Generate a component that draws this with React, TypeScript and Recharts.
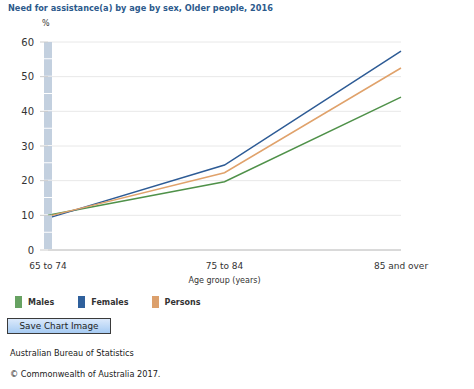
import React from "react";
import { CartesianGrid, Line, LineChart, XAxis, YAxis } from "recharts";

const categories = ["65 to 74", "75 to 84", "85 and over"];
const males = [10.0, 19.7, 44.1];
const females = [9.2, 24.5, 57.4];
const persons = [9.7, 22.3, 52.5];
const yTicks = [0, 10, 20, 30, 40, 50, 60];

const series = [
  { key: "males", name: "Males", color: "#4f9149", legend: "#67a262", gap: 24 },
  { key: "females", name: "Females", color: "#2d5b95", legend: "#2f609c", gap: 23 },
  { key: "persons", name: "Persons", color: "#e0a26b", legend: "#dca06c", gap: 0 },
];

const data = categories.map((c, i) => ({
  name: c,
  males: males[i],
  females: females[i],
  persons: persons[i],
}));

const font = "'DejaVu Sans', Verdana, sans-serif";

export default function App() {
  return (
    <div
      style={{
        position: "absolute",
        left: 0,
        top: 0,
        width: 474,
        height: 389,
        background: "#fff",
        fontFamily: font,
      }}
    >
      <div
        style={{
          position: "absolute",
          left: 8,
          top: 3,
          fontSize: 8.2,
          fontWeight: "bold",
          color: "#2c5a8c",
          whiteSpace: "nowrap",
        }}
      >
        Need for assistance(a) by age by sex, Older people, 2016
      </div>
      <div style={{ position: "absolute", left: 42, top: 19, fontSize: 8, color: "#333" }}>%</div>

      <div style={{ position: "absolute", left: 0, top: 0 }}>
        <LineChart
          width={474}
          height={320}
          data={data}
          margin={{ top: 42, right: 73, left: 0, bottom: 30 }}
        >
          <CartesianGrid vertical={false} stroke="#e8e8e8" />
          <XAxis
            dataKey="name"
            padding={{ left: 0, right: 0 }}
            height={40}
            stroke="#c0c0c0"
            tickLine={false}
            tick={{ fontSize: 9, fill: "#333", fontFamily: font }}
            tickMargin={7}
            label={{
              value: "Age group (years)",
              position: "insideBottom",
              offset: 7,
              fontSize: 8,
              fill: "#333",
              fontFamily: font,
            }}
          />
          <YAxis
            width={48}
            domain={[0, 60]}
            ticks={yTicks}
            axisLine={{ stroke: "#c3d0df", strokeWidth: 8, strokeDasharray: "16.33 1" }}
            tickLine={{ stroke: "#cccccc" }}
            tickSize={8}
            tickMargin={6}
            tick={{ fontSize: 10, fill: "#333", fontFamily: font }}
          />
          {series.map((s) => (
            <Line
              key={s.key}
              dataKey={s.key}
              name={s.name}
              stroke={s.color}
              strokeWidth={1.5}
              dot={false}
              activeDot={false}
              isAnimationActive={false}
            />
          ))}
        </LineChart>
      </div>

      <div style={{ position: "absolute", left: 15, top: 296, display: "flex" }}>
        {series.map((s) => (
          <div key={s.key} style={{ display: "flex", alignItems: "center", marginRight: s.gap }}>
            <span style={{ width: 7, height: 12, background: s.legend, display: "inline-block" }} />
            <span style={{ marginLeft: 6, fontSize: 8, fontWeight: "bold", color: "#333" }}>{s.name}</span>
          </div>
        ))}
      </div>

      <div
        style={{
          position: "absolute",
          left: 7,
          top: 318,
          width: 102,
          height: 14,
          border: "1px solid #3a3a3a",
          background: "linear-gradient(#dbe9fb, #a6cbf3)",
          fontSize: 8.8,
          color: "#222",
          textAlign: "center",
          lineHeight: "14px",
          whiteSpace: "nowrap",
        }}
      >
        Save Chart Image
      </div>
      <div style={{ position: "absolute", left: 10, top: 348, fontSize: 8.2, color: "#222" }}>
        Australian Bureau of Statistics
      </div>
      <div style={{ position: "absolute", left: 10, top: 369, fontSize: 8.2, color: "#222" }}>
        © Commonwealth of Australia 2017.
      </div>
    </div>
  );
}
